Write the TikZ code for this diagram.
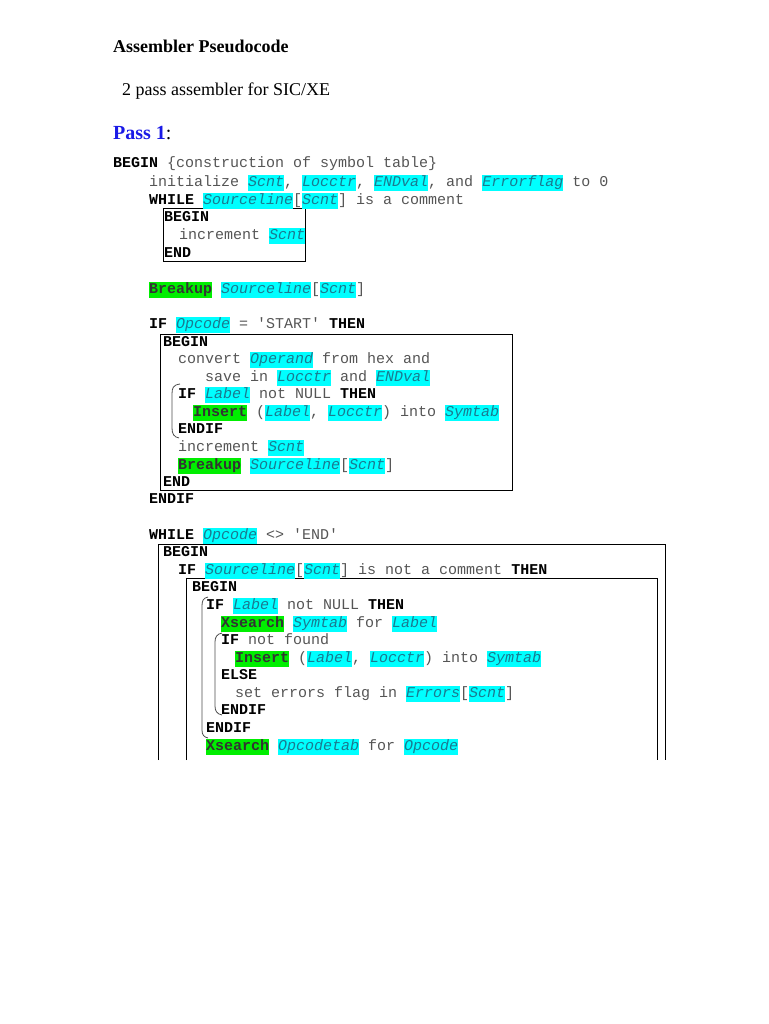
\documentclass[tikz,border=0pt]{standalone}
\usepackage{fontspec}
\setmainfont{Liberation Serif}
\setmonofont{Liberation Mono}
\usepackage{xcolor}
\definecolor{codegray}{HTML}{555555}
\definecolor{hcyan}{HTML}{00FFFF}
\definecolor{hgreen}{HTML}{00EE00}
\definecolor{teal2}{HTML}{1A7A90}
\definecolor{pblue}{HTML}{1A1AE6}
\newcommand\kw[1]{\textcolor{black}{\bfseries #1}}
\newcommand\hc[1]{{\setlength\fboxsep{0pt}\colorbox{hcyan}{\rule[-4.5pt]{0pt}{16pt}\color{teal2}\itshape #1}}}
\newcommand\hg[1]{{\setlength\fboxsep{0pt}\colorbox{hgreen}{\rule[-4.5pt]{0pt}{16pt}\color{black!80}\bfseries #1}}}
\begin{document}
\begin{tikzpicture}[x=1pt,y=-1pt,
  code/.style={anchor=base west,inner sep=0pt,font=\ttfamily\fontsize{15}{15}\selectfont,text=codegray},
  frame/.style={draw=black,line width=0.9pt},
  brk/.style={draw=black!70,line width=0.8pt}]
\useasboundingbox (0,0) rectangle (768,1024);
\node[anchor=base west,inner sep=0pt,font=\bfseries\fontsize{18}{18}\selectfont] (t1) at (113,53) {Assembler Pseudocode};
\node[anchor=base west,inner sep=0pt,font=\fontsize{18}{18}\selectfont] (t2) at (122,96) {2 pass assembler for SIC/XE};
\node[anchor=base west,inner sep=0pt,font=\fontsize{20}{20}\selectfont] (t3) at (113,140) {\textcolor{pblue}{\bfseries Pass 1}:};
% boxes
\draw[frame] (163,208) rectangle (305,261);
\draw[frame] (160,334) rectangle (512,490);
\draw[frame] (158,760) -- (158,544) -- (665,544) -- (665,760);
\draw[frame] (186,760) -- (186,578) -- (657,578) -- (657,760);
% brackets
\draw[brk] (180,384) .. controls (173,385) and (172,388) .. (172,394) -- (172,428) .. controls (172,434) and (174,437) .. (179,438);
\draw[brk] (208,597) .. controls (203,598) and (202,601) .. (202,606) -- (202,730) .. controls (202,735) and (204,737) .. (208,738);
\draw[brk] (222,633) .. controls (217,634) and (215,637) .. (215,642) -- (215,706) .. controls (215,711) and (217,714) .. (222,715);
% code
\node[code] (l1) at (113,168) {\kw{BEGIN} \{construction of symbol table\}};
\node[code] (l2) at (149,187) {initialize \hc{Scnt}, \hc{Locctr}, \hc{ENDval}, and \hc{Errorflag} to 0};
\node[code] (l3) at (149,205) {\kw{WHILE} \hc{Sourceline}[\hc{Scnt}] is a comment};
\node[code] (l4) at (164,222) {\kw{BEGIN}};
\node[code] (l5) at (179,240) {increment \hc{Scnt}};
\node[code] (l6) at (164,257) {\kw{END}};
\node[code] (l7) at (149,293) {\hg{Breakup} \hc{Sourceline}[\hc{Scnt}]};
\node[code] (l8) at (149,328) {\kw{IF} \hc{Opcode} = 'START' \kw{THEN}};
\node[code] (l9) at (163,346) {\kw{BEGIN}};
\node[code] (l10) at (178,363) {convert \hc{Operand} from hex and};
\node[code] (l11) at (205,381) {save in \hc{Locctr} and \hc{ENDval}};
\node[code] (l12) at (178,398) {\kw{IF} \hc{Label} not NULL \kw{THEN}};
\node[code] (l13) at (193,416) {\hg{Insert} (\hc{Label}, \hc{Locctr}) into \hc{Symtab}};
\node[code] (l14) at (178,433) {\kw{ENDIF}};
\node[code] (l15) at (178,451) {increment \hc{Scnt}};
\node[code] (l16) at (178,469) {\hg{Breakup} \hc{Sourceline}[\hc{Scnt}]};
\node[code] (l17) at (163,486) {\kw{END}};
\node[code] (l18) at (149,503) {\kw{ENDIF}};
\node[code] (l19) at (149,539) {\kw{WHILE} \hc{Opcode} <> 'END'};
\node[code] (l20) at (163,556) {\kw{BEGIN}};
\node[code] (l21) at (178,574) {\kw{IF} \hc{Sourceline}[\hc{Scnt}] is not a comment \kw{THEN}};
\node[code] (l22) at (192,591) {\kw{BEGIN}};
\node[code] (l23) at (206,609) {\kw{IF} \hc{Label} not NULL \kw{THEN}};
\node[code] (l24) at (221,627) {\hg{Xsearch} \hc{Symtab} for \hc{Label}};
\node[code] (l25) at (221,644) {\kw{IF} not found};
\node[code] (l26) at (235,662) {\hg{Insert} (\hc{Label}, \hc{Locctr}) into \hc{Symtab}};
\node[code] (l27) at (221,679) {\kw{ELSE}};
\node[code] (l28) at (235,697) {set errors flag in \hc{Errors}[\hc{Scnt}]};
\node[code] (l29) at (221,714) {\kw{ENDIF}};
\node[code] (l30) at (206,732) {\kw{ENDIF}};
\node[code] (l31) at (206,750) {\hg{Xsearch} \hc{Opcodetab} for \hc{Opcode}};
\end{tikzpicture}
\end{document}
